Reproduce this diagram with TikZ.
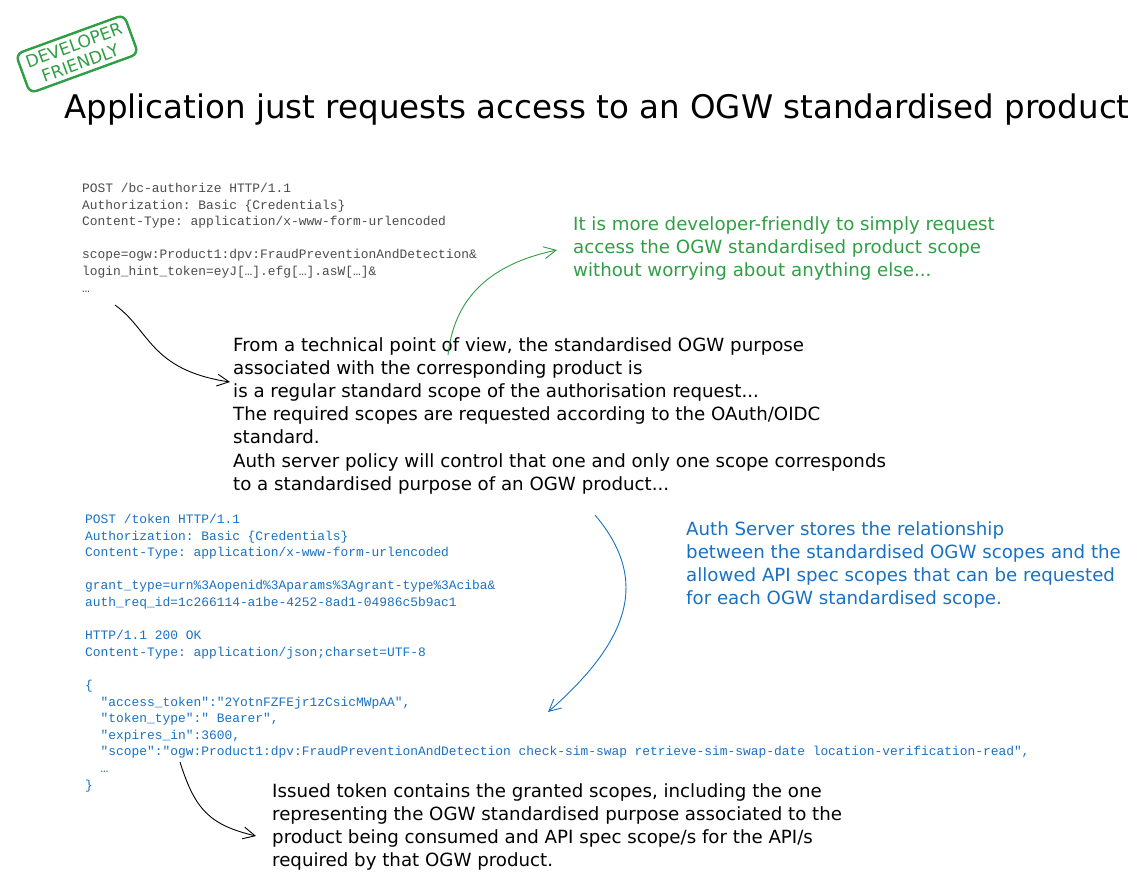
\documentclass[tikz,border=0pt]{standalone}
\usepackage{fontspec}
\setmainfont{DejaVu Sans}
\setmonofont{Liberation Mono}
\usetikzlibrary{arrows.meta}
\definecolor{gr}{HTML}{2F9E44}
\definecolor{bl}{HTML}{1971C2}
\definecolor{cd}{HTML}{1E1E1E}
\tikzset{x=1pt,y=-1pt,
 code/.style={anchor=north west,align=left,inner sep=0,font=\ttfamily\fontsize{12.9}{16.6}\selectfont},
 hand/.style={anchor=north west,align=left,inner sep=0,font=\fontsize{18.2}{23.2}\selectfont},
 arr/.style={-{Straight Barb[length=12pt,width=12pt]},line width=0.9pt}}
\begin{document}
\begin{tikzpicture}
\useasboundingbox (0,0) rectangle (1146,879);
\node[draw=gr,text=gr,line width=2.4pt,rounded corners=7pt,rotate=20,align=center,font=\fontsize{17}{19}\selectfont,inner xsep=7pt,inner ysep=5pt] (badge) at (77,54) {DEVELOPER\\FRIENDLY};
\node[anchor=north west,inner sep=0,font=\fontsize{32.5}{36}\selectfont] (title) at (64,94) {Application just requests access to an OGW standardised product};
\node[code,text=cd!80] (c1) at (82,183) {POST /bc-authorize HTTP/1.1\\Authorization: Basic \{Credentials\}\\Content-Type: application/x-www-form-urlencoded\\[16.6pt]scope=ogw:Product1:dpv:FraudPreventionAndDetection\&\\login\_hint\_token=eyJ[…].efg[…].asW[…]\&\\…};
\node[hand,text=gr] (g) at (573,216) {It is more developer-friendly to simply request\\access the OGW standardised product scope\\without worrying about anything else...};
\node[hand] (m) at (233,337) {From a technical point of view, the standardised OGW purpose\\associated with the corresponding product is\\is a regular standard scope of the authorisation request...\\The required scopes are requested according to the OAuth/OIDC\\standard.\\Auth server policy will control that one and only one scope corresponds\\to a standardised purpose of an OGW product...};
\node[code,text=bl] (c2) at (85,514) {POST /token HTTP/1.1\\Authorization: Basic \{Credentials\}\\Content-Type: application/x-www-form-urlencoded\\[16.6pt]grant\_type=urn\%3Aopenid\%3Aparams\%3Agrant-type\%3Aciba\&\\auth\_req\_id=1c266114-a1be-4252-8ad1-04986c5b9ac1\\[16.6pt]HTTP/1.1 200 OK\\Content-Type: application/json;charset=UTF-8\\[16.6pt]\{\\\ \ "access\_token":"2YotnFZFEjr1zCsicMWpAA",\\\ \ "token\_type":" Bearer",\\\ \ "expires\_in":3600,\\\ \ "scope":"ogw:Product1:dpv:FraudPreventionAndDetection check-sim-swap retrieve-sim-swap-date location-verification-read",\\\ \ …\\\}};
\node[hand,text=bl] (b) at (686,521) {Auth Server stores the relationship\\between the standardised OGW scopes and the\\allowed API spec scopes that can be requested\\for each OGW standardised scope.};
\node[hand] (e) at (272,783) {Issued token contains the granted scopes, including the one\\representing the OGW standardised purpose associated to the\\product being consumed and API spec scope/s for the API/s\\required by that OGW product.};
\coordinate (a1s) at (115,305); \coordinate (a1e) at (230,382);
\draw[arr] (a1s) .. controls (150,330) and (150,370) .. (a1e);
\coordinate (a2s) at (448,355); \coordinate (a2e) at (557,250);
\draw[arr,gr] (a2s) .. controls (455,290) and (500,262) .. (a2e);
\coordinate (a3s) at (595,515); \coordinate (a3e) at (548,712);
\draw[arr,bl] (a3s) .. controls (650,580) and (630,640) .. (a3e);
\coordinate (a4s) at (180,762); \coordinate (a4e) at (256,836);
\draw[arr] (a4s) .. controls (195,810) and (210,825) .. (a4e);
\end{tikzpicture}
\end{document}
